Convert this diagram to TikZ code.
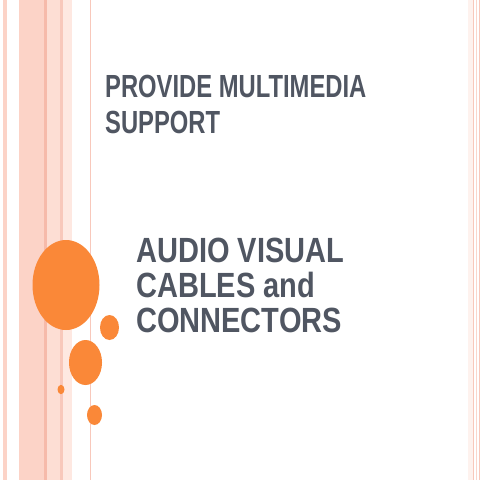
\documentclass[tikz,border=0pt]{standalone}
\usepackage{fontspec}
\setmainfont{Liberation Sans}
\newfontfamily\titlefont[FakeStretch=0.743]{Liberation Sans}
\newfontfamily\bodyfont[FakeStretch=0.829]{Liberation Sans}

\definecolor{slidegrey}{RGB}{80,86,98}
\definecolor{bubbleorange}{RGB}{250,136,56}
\definecolor{pinklight}{RGB}{253,222,212}
\definecolor{pinkmid}{RGB}{252,211,199}
\definecolor{pinkdark}{RGB}{246,186,170}

\tikzset{
  bubble/.style={fill=bubbleorange},
  headline/.style={anchor=base west, inner sep=0pt, align=left, text=slidegrey,
    font=\titlefont\bfseries\fontsize{32}{36}\selectfont},
  bodyline/.style={anchor=base west, inner sep=0pt, align=left, text=slidegrey,
    font=\bodyfont\bfseries\fontsize{35}{35}\selectfont},
}

\begin{document}
\begin{tikzpicture}[x=1pt,y=-1pt]
  \useasboundingbox (0,0) rectangle (480,480);
  \fill[white] (0,0) rectangle (480,480);

  % stripes on the left
  \fill[pinkmid] (3,0) rectangle (7,480);
  \fill[pinkmid] (19,0) rectangle (44,480);
  \fill[pinkdark] (44,0) rectangle (47,480);
  \fill[pinklight] (47,0) rectangle (60,480);
  \fill[pinkdark!80] (60,0) rectangle (63,480);
  \fill[pinklight!70] (63,0) rectangle (72,480);
  \fill[pinkdark!80] (90,0) rectangle (91.2,480);

  % stripes on the right
  \fill[pinklight!40] (468,0) rectangle (473,480);
  \fill[pinkdark!80] (473,0) rectangle (474.2,480);
  \fill[pinkdark!60] (476,0) rectangle (477.2,480);
  \fill[pinkdark!80] (478.5,0) rectangle (480,480);

  % bubbles
  \fill[bubble] (66,285) ellipse [x radius=33.5, y radius=45];
  \fill[bubble] (109.5,327.5) ellipse [x radius=9.5, y radius=12.5];
  \fill[bubble] (85.5,362.5) ellipse [x radius=16.5, y radius=22.5];
  \fill[bubble] (61,389.5) ellipse [x radius=3.5, y radius=4.7];
  \fill[bubble] (94.5,415) ellipse [x radius=7.5, y radius=10];

  % texts (base anchor sits on the last line)
  \node[headline] (title) at (105,133) {PROVIDE MULTIMEDIA\\SUPPORT};
  \node[bodyline] (topic) at (136,332) {AUDIO VISUAL\\CABLES and\\CONNECTORS};
\end{tikzpicture}
\end{document}
